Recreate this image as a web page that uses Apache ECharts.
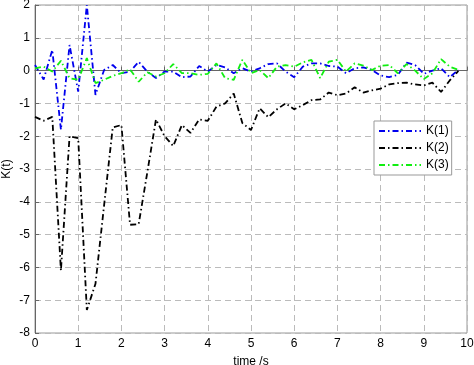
<!DOCTYPE html>
<html>
<head>
<meta charset="utf-8">
<script src="https://cdn.jsdelivr.net/npm/echarts@6/dist/echarts.min.js"></script>
<style>
html,body{margin:0;padding:0;background:#fff;}
#main{width:474px;height:365px;}
</style>
</head>
<body>
<div id="main"></div>
<script>
var timeS = [0,0.2,0.4,0.6,0.8,1.0,1.2,1.4,1.6,1.8,2.0,2.2,2.4,2.6,2.8,3.0,3.2,3.4,3.6,3.8,4.0,4.2,4.4,4.6,4.8,5.0,5.2,5.4,5.6,5.8,6.0,6.2,6.4,6.6,6.8,7.0,7.2,7.4,7.6,7.8,8.0,8.2,8.4,8.6,8.8,9.0,9.2,9.4,9.6,9.8];
var k1 = [0.17,-0.27,0.63,-1.8,0.78,-0.64,2.0,-0.74,0.02,0.17,-0.08,-0.03,0.27,-0.03,-0.23,-0.03,-0.03,-0.2,-0.18,0.14,-0.03,0.17,0.1,-0.08,0.07,-0.03,0.07,0.2,0.22,-0.03,-0.2,0.12,0.22,0.22,0.14,0.12,-0.08,0.07,0.1,0.02,-0.15,-0.2,-0.13,0.24,0.17,-0.1,0.0,0.07,-0.2,0.02];
var k2 = [-1.41,-1.53,-1.41,-6.1,-2.0,-2.06,-7.3,-6.5,-4.1,-1.73,-1.66,-4.7,-4.68,-3.1,-1.49,-2.0,-2.3,-1.66,-1.9,-1.49,-1.53,-1.1,-1.0,-0.7,-1.6,-1.81,-1.15,-1.42,-1.18,-1.0,-1.18,-1.05,-0.9,-0.88,-0.67,-0.75,-0.7,-0.51,-0.67,-0.6,-0.55,-0.42,-0.38,-0.37,-0.42,-0.45,-0.37,-0.65,-0.3,-0.01];
var k3 = [0.07,0.12,-0.03,0.3,-0.23,-0.28,0.38,-0.38,-0.28,-0.16,-0.08,0.04,-0.34,-0.05,-0.18,-0.08,0.2,-0.08,-0.08,-0.13,-0.1,0.22,-0.23,-0.28,0.33,-0.08,0.02,-0.23,0.12,0.17,0.12,0.25,0.33,-0.23,0.27,0.33,-0.03,0.22,0.15,0.02,0.15,0.17,-0.08,0.2,0.0,-0.26,-0.08,0.35,0.12,0.02];
var seriesNames = ['K(1)','K(2)','K(3)'];
var seriesColors = ['#0000ee','#000000','#11ee11'];
var seriesValues = [k1,k2,k3];
var xTicks = [0,1,2,3,4,5,6,7,8,9,10];
var yTicks = [-8,-7,-6,-5,-4,-3,-2,-1,0,1,2];

function pairs(vals){ return vals.map(function(v,i){ return [timeS[i], v]; }); }

var chart = echarts.init(document.getElementById('main'));
var gridLine = {show:true, lineStyle:{color:'#bbbbbb', type:[6,4], width:1}};
var fontFam = 'Liberation Sans, Arial, sans-serif';
var axisLabelStyle = {color:'#000', fontSize:12, fontFamily:fontFam};
chart.setOption({
  animation:false,
  backgroundColor:'#fff',
  grid:{left:35, right:7, top:5, bottom:32, show:true, borderColor:'#999', borderWidth:1, containLabel:false, outerBoundsMode:'none'},
  xAxis:{type:'value', min:xTicks[0], max:xTicks[xTicks.length-1], interval:1,
    name:'time /s', nameLocation:'middle', nameGap:23, nameMoveOverlap:false,
    nameTextStyle:{color:'#000', fontSize:12, fontFamily:fontFam},
    axisLine:{show:true, lineStyle:{color:'#666'}},
    axisTick:{show:true, inside:true, length:4, lineStyle:{color:'#666'}},
    axisLabel:Object.assign({margin:5}, axisLabelStyle),
    splitLine:gridLine},
  yAxis:{type:'value', min:yTicks[0], max:yTicks[yTicks.length-1], interval:1,
    name:'K(t)', nameLocation:'middle', nameGap:22, nameRotate:90, nameMoveOverlap:false,
    nameTextStyle:{color:'#000', fontSize:12, fontFamily:fontFam},
    axisLine:{show:true, lineStyle:{color:'#666'}},
    axisTick:{show:true, inside:true, length:4, lineStyle:{color:'#666'}},
    axisLabel:Object.assign({margin:5}, axisLabelStyle),
    splitLine:gridLine},
  legend:{
    orient:'vertical', left:374, top:121,
    backgroundColor:'#fff', borderColor:'#999', borderWidth:1,
    padding:[4,3,4,4], itemGap:5, itemWidth:42, itemHeight:14,
    itemStyle:{opacity:0},
    textStyle:{color:'#000', fontSize:12, fontFamily:fontFam},
    data:seriesNames
  },
  series:seriesNames.map(function(n,i){
    return {name:n, type:'line', data:pairs(seriesValues[i]), symbol:'none',
      lineStyle:{color:seriesColors[i], width:1.8, type:[6,3,1.5,3]},
      itemStyle:{color:seriesColors[i]}};
  })
});
</script>
</body>
</html>
